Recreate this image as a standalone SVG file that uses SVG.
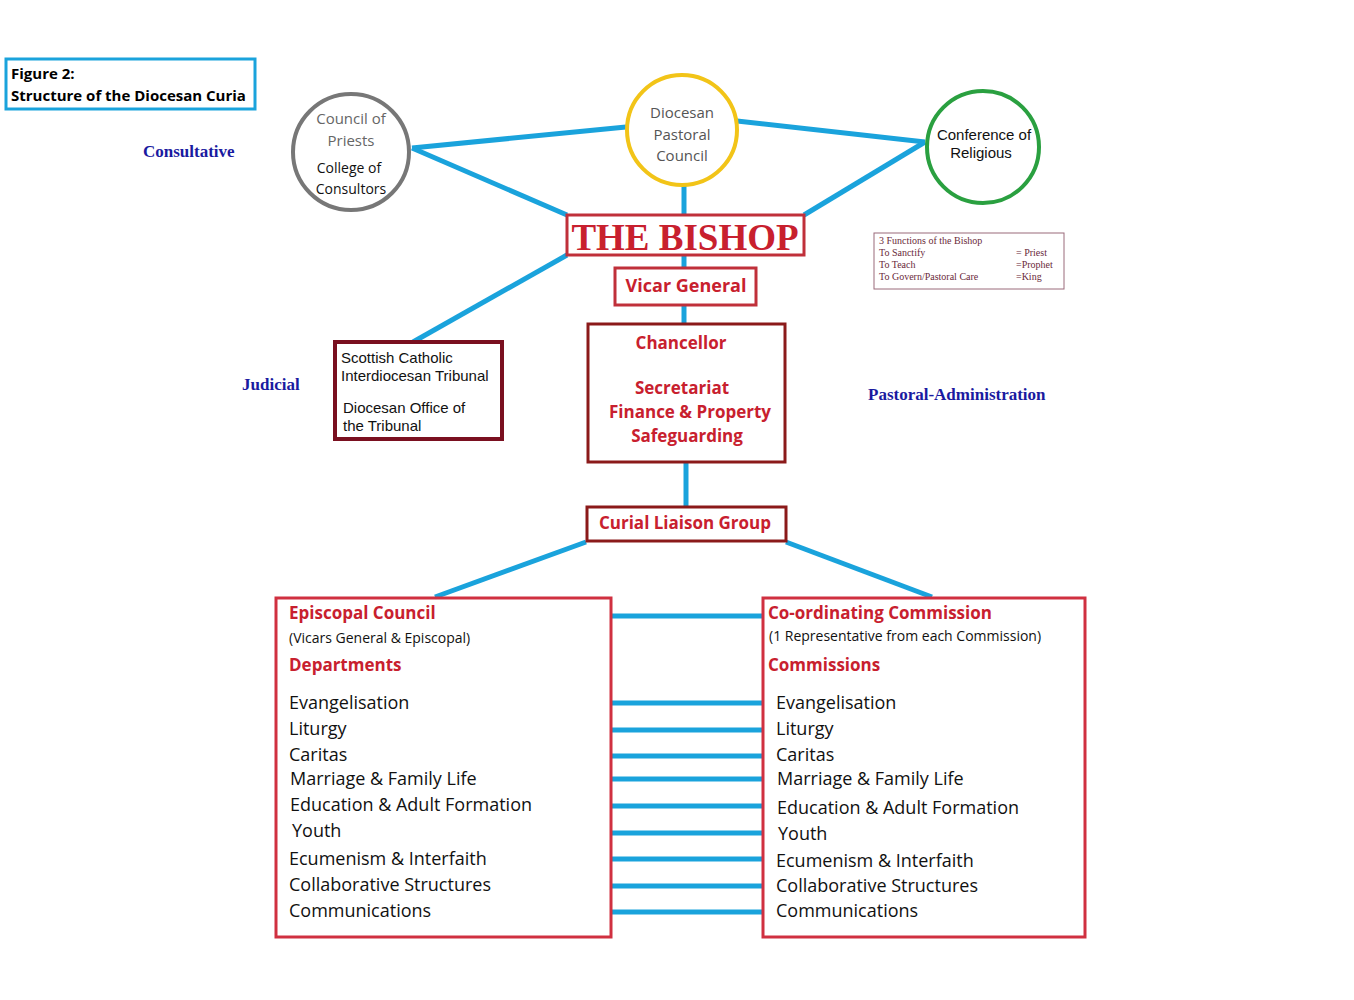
<svg xmlns="http://www.w3.org/2000/svg" width="1354" height="1000" viewBox="0 0 1354 1000">
<style>
.c{stroke:#1aa3dc;stroke-width:5;fill:none}
.sans{font-family:"Open Sans","Noto Sans",sans-serif}
.ar{font-family:"Liberation Sans",Arial,sans-serif}
.ser{font-family:"Liberation Serif","Times New Roman",serif}
.red{fill:#c8202e;font-weight:bold}
.lbl{fill:#1a1aa0;font-weight:bold;font-size:17px}
.item{font-size:18px;fill:#111}
.box{fill:#fff}
</style>
<rect width="1354" height="1000" fill="#fff"/>
<g id="connectors">
<line class="c" x1="412" y1="148" x2="626" y2="127"/>
<line class="c" x1="412" y1="148" x2="567" y2="215"/>
<line class="c" x1="737" y1="121" x2="925" y2="142"/>
<line class="c" x1="925" y1="142" x2="804" y2="215"/>
<line class="c" x1="684" y1="185" x2="684" y2="215"/>
<line class="c" x1="684" y1="255" x2="684" y2="268"/>
<line class="c" x1="684" y1="305" x2="684" y2="324"/>
<line class="c" x1="567" y1="255" x2="413" y2="342"/>
<line class="c" x1="686" y1="462" x2="686" y2="507"/>
<line class="c" x1="586" y1="542" x2="435" y2="597"/>
<line class="c" x1="786" y1="542" x2="932" y2="597"/>
<line class="c" x1="612" y1="616" x2="762" y2="616"/>
<line class="c" x1="612" y1="703" x2="762" y2="703"/>
<line class="c" x1="612" y1="730" x2="762" y2="730"/>
<line class="c" x1="612" y1="756" x2="762" y2="756"/>
<line class="c" x1="612" y1="779" x2="762" y2="779"/>
<line class="c" x1="612" y1="806" x2="762" y2="806"/>
<line class="c" x1="612" y1="833" x2="762" y2="833"/>
<line class="c" x1="612" y1="859" x2="762" y2="859"/>
<line class="c" x1="612" y1="886" x2="762" y2="886"/>
<line class="c" x1="612" y1="912" x2="762" y2="912"/>
</g>
<g id="figure">
<rect x="6" y="59" width="249" height="50" fill="#fff" stroke="#1aa3dc" stroke-width="3"/>
<text class="sans" x="11" y="79" font-size="15" font-weight="bold">Figure 2:</text>
<text class="sans" x="11" y="101" font-size="15" font-weight="bold">Structure of the Diocesan Curia</text>
</g>
<g id="labels">
<text class="ser lbl" x="143" y="157">Consultative</text>
<text class="ser lbl" x="242" y="390">Judicial</text>
<text class="ser lbl" x="868" y="400">Pastoral-Administration</text>
</g>
<g id="council-priests">
<circle cx="351" cy="152" r="58" fill="#fff" stroke="#777" stroke-width="4"/>
<text class="sans" font-size="15" text-anchor="middle" fill="#666"><tspan x="351" y="124">Council of</tspan><tspan x="351" y="146">Priests</tspan></text>
<text class="sans" font-size="14" text-anchor="middle" fill="#111"><tspan x="349" y="173">College of</tspan><tspan x="351" y="194">Consultors</tspan></text>
</g>
<g id="pastoral-council">
<circle cx="682" cy="130" r="55" fill="#fff" stroke="#f2c418" stroke-width="4"/>
<text class="sans" font-size="15" text-anchor="middle" fill="#555"><tspan x="682" y="118">Diocesan</tspan><tspan x="682" y="140">Pastoral</tspan><tspan x="682" y="161">Council</tspan></text>
</g>
<g id="religious">
<circle cx="983" cy="147" r="56" fill="#fff" stroke="#2aa040" stroke-width="4"/>
<text class="ar" font-size="15" text-anchor="middle" fill="#111"><tspan x="984" y="140">Conference of</tspan><tspan x="981" y="158">Religious</tspan></text>
</g>
<g id="bishop">
<rect x="567" y="215" width="237" height="40" class="box" stroke="#c0303a" stroke-width="3"/>
<text class="ser" x="685" y="250" font-size="37" font-weight="bold" fill="#c8202e" text-anchor="middle">THE BISHOP</text>
</g>
<g id="functions">
<rect x="874" y="233" width="190" height="56" fill="#fff" stroke="#9a6a7a" stroke-width="1"/>
<text class="ser" font-size="10" fill="#6a2a3a"><tspan x="879" y="244">3 Functions of the Bishop</tspan><tspan x="879" y="256">To Sanctify</tspan><tspan x="879" y="268">To Teach</tspan><tspan x="879" y="280">To Govern/Pastoral Care</tspan></text>
<text class="ser" font-size="10" fill="#6a2a3a"><tspan x="1016" y="256">= Priest</tspan><tspan x="1016" y="268">=Prophet</tspan><tspan x="1016" y="280">=King</tspan></text>
</g>
<g id="vicar">
<rect x="615" y="268" width="141" height="37" class="box" stroke="#c0303a" stroke-width="3"/>
<text class="sans red" x="686" y="292" font-size="18" text-anchor="middle">Vicar General</text>
</g>
<g id="chancellor">
<rect x="588" y="324" width="197" height="138" class="box" stroke="#8b1a1a" stroke-width="3"/>
<text class="sans red" font-size="17" text-anchor="middle"><tspan x="681" y="349">Chancellor</tspan><tspan x="682" y="394">Secretariat</tspan><tspan x="690" y="418">Finance &amp; Property</tspan><tspan x="687" y="442">Safeguarding</tspan></text>
</g>
<g id="tribunal">
<rect x="335" y="342" width="167" height="97" class="box" stroke="#7a1020" stroke-width="4"/>
<text class="ar" font-size="15" fill="#111"><tspan x="341" y="363">Scottish Catholic</tspan><tspan x="341" y="381">Interdiocesan Tribunal</tspan><tspan x="343" y="413">Diocesan Office of</tspan><tspan x="343" y="431">the Tribunal</tspan></text>
</g>
<g id="curial">
<rect x="587" y="507" width="199" height="34" class="box" stroke="#8b1a1a" stroke-width="3"/>
<text class="sans red" x="685" y="529" font-size="17" text-anchor="middle">Curial Liaison Group</text>
</g>
<g id="episcopal">
<rect x="276" y="598" width="335" height="339" fill="none" stroke="#d03040" stroke-width="3"/>
<text class="sans red" x="289" y="619" font-size="17">Episcopal Council</text>
<text class="sans" x="289" y="643" font-size="14" fill="#111">(Vicars General &amp; Episcopal)</text>
<text class="sans red" x="289" y="671" font-size="17">Departments</text>
<text class="sans item"><tspan x="289" y="709">Evangelisation</tspan><tspan x="289" y="735">Liturgy</tspan><tspan x="289" y="761">Caritas</tspan><tspan x="290" y="785">Marriage &amp; Family Life</tspan><tspan x="290" y="811">Education &amp; Adult Formation</tspan><tspan x="292" y="837">Youth</tspan><tspan x="289" y="865">Ecumenism &amp; Interfaith</tspan><tspan x="289" y="891">Collaborative Structures</tspan><tspan x="289" y="917">Communications</tspan></text>
</g>
<g id="coordinating">
<rect x="763" y="598" width="322" height="339" fill="none" stroke="#d03040" stroke-width="3"/>
<text class="sans red" x="768" y="619" font-size="17">Co-ordinating Commission</text>
<text class="sans" x="769" y="641" font-size="14" fill="#111">(1 Representative from each Commission)</text>
<text class="sans red" x="768" y="671" font-size="17">Commissions</text>
<text class="sans item"><tspan x="776" y="709">Evangelisation</tspan><tspan x="776" y="735">Liturgy</tspan><tspan x="776" y="761">Caritas</tspan><tspan x="777" y="785">Marriage &amp; Family Life</tspan><tspan x="777" y="814">Education &amp; Adult Formation</tspan><tspan x="778" y="840">Youth</tspan><tspan x="776" y="867">Ecumenism &amp; Interfaith</tspan><tspan x="776" y="892">Collaborative Structures</tspan><tspan x="776" y="917">Communications</tspan></text>
</g>
</svg>
